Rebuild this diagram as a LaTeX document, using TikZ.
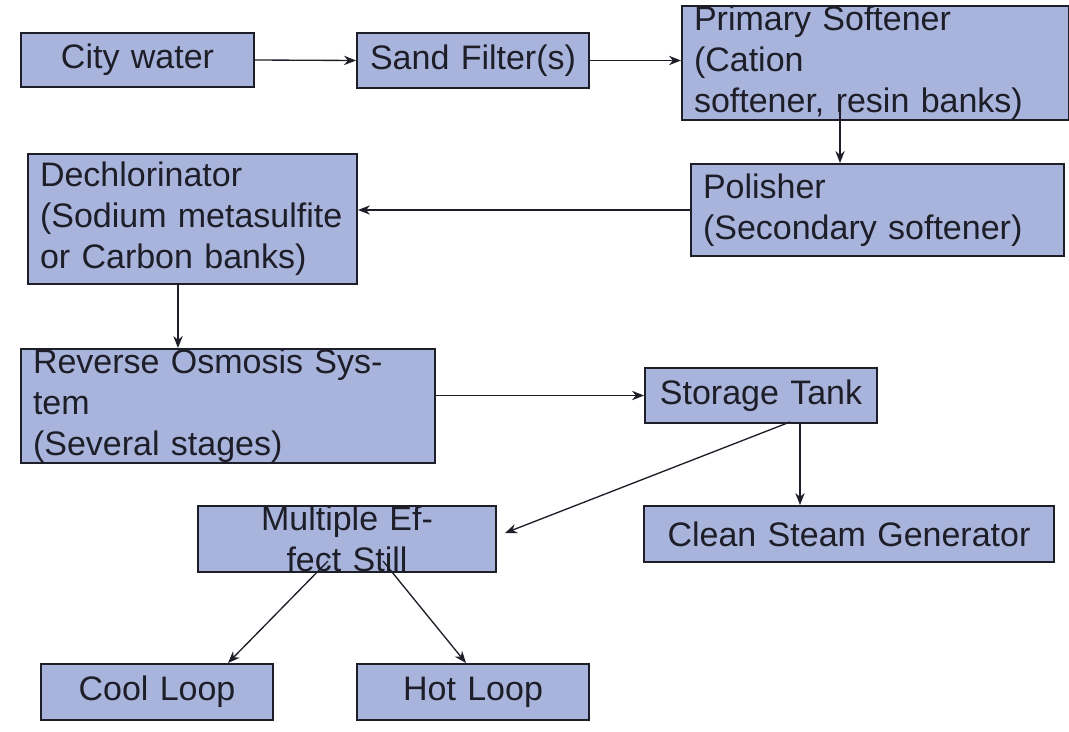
\documentclass[tikz,border=0pt]{standalone}
\usepackage{fontspec}
\setmainfont{Liberation Sans}
\usetikzlibrary{arrows.meta,calc}
\definecolor{boxfill}{HTML}{A9B4DC}
\definecolor{ink}{HTML}{1E1E28}
\begin{document}
\begin{tikzpicture}[x=0.75pt,y=-0.75pt,
  box/.style={draw=ink,line width=1.5pt,fill=boxfill,anchor=north west,inner sep=0pt,
    font=\fontsize{25.5pt}{30.75pt}\selectfont,text=ink},
  arr/.style={draw=ink,line width=1pt,-{Stealth[length=9pt,width=7pt]}}]
\useasboundingbox (0,0) rectangle (1069,731);
\newcommand{\bx}[7]{% name, x1,y1,x2,y2, align, text
  \node[box,minimum width={(#4-#2)*0.75pt},minimum height={(#5-#3)*0.75pt},
    text width={(#4-#2-24)*0.75pt},align=#6] (#1) at (#2,#3) {#7};}
\bx{city}{20}{32}{253}{86}{center}{City water}
\bx{sand}{356}{32}{588}{87}{center}{Sand Filter(s)}
\bx{prim}{681}{5}{1068}{97}{left}{Primary Softener (Cation\\softener, resin banks)}
\bx{pol}{690}{163}{1063}{255}{left}{Polisher\\(Secondary softener)}
\bx{dech}{27}{153}{356}{283}{left}{Dechlorinator\\(Sodium metasulfite\\or Carbon banks)}
\bx{ro}{20}{348}{434}{460}{left}{Reverse Osmosis System\\(Several stages)}
\bx{tank}{644}{367}{876}{422}{center}{Storage Tank}
\bx{mes}{197}{505}{495}{561}{center}{Multiple Effect Still}
\bx{csg}{643}{505}{1053}{561}{center}{Clean Steam Generator}
\bx{cool}{40}{663}{272}{719}{center}{Cool Loop}
\bx{hot}{356}{663}{588}{719}{center}{Hot Loop}
\coordinate (p1) at (840,97);
\coordinate (d1) at (178,283);
\coordinate (t1) at (790,422);
\coordinate (t2) at (800,422);
\coordinate (me) at (505,533);
\coordinate (m1) at (328,561);
\coordinate (m2) at (383,561);
\coordinate (c1) at (228,663);
\coordinate (h1) at (466,663);
\draw[arr] (city.east) -- (sand.west);
\draw[arr] (sand.east) -- (prim.west |- sand.east);
\draw[arr] (p1) -- (p1 |- pol.north);
\draw[arr] (pol.west) -- (dech.east |- pol.west);
\draw[arr] (d1) -- (d1 |- ro.north);
\draw[arr] (ro.east |- tank.west) -- (tank.west);
\draw[arr] (t1) -- (me);
\draw[arr] (t2) -- (t2 |- csg.north);
\draw[arr] (m1) -- (c1);
\draw[arr] (m2) -- (h1);
\end{tikzpicture}
\end{document}
